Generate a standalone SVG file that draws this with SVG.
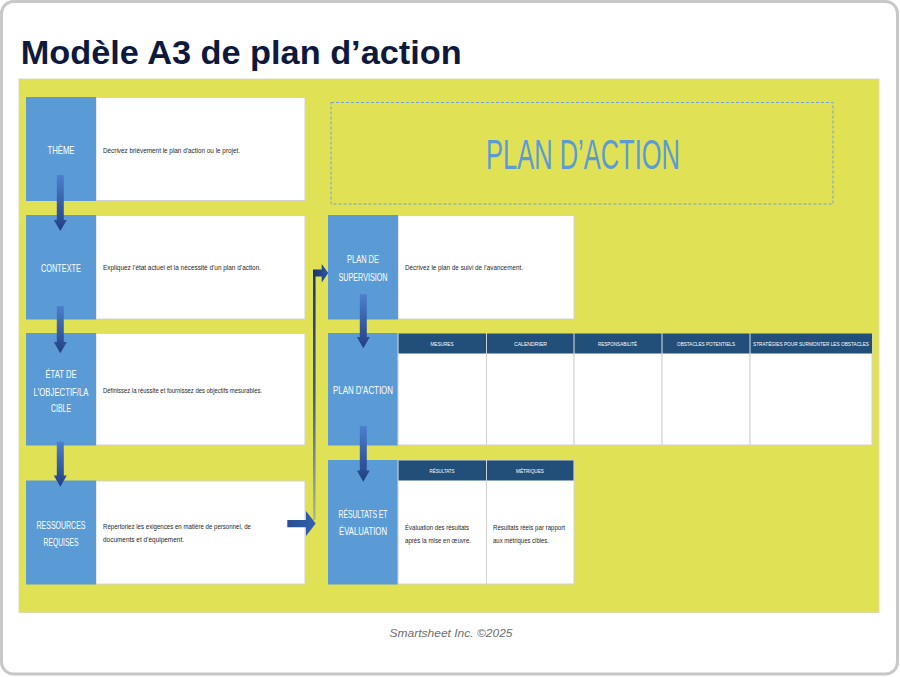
<svg xmlns="http://www.w3.org/2000/svg" width="900" height="677" viewBox="0 0 900 677">
<defs>
<linearGradient id="gDown" x1="0" y1="0" x2="0" y2="1">
<stop offset="0" stop-color="#4d7fcc"/>
<stop offset="1" stop-color="#223f82"/>
</linearGradient>
<linearGradient id="gRight" x1="0" y1="0" x2="1" y2="0">
<stop offset="0" stop-color="#2a4e8e"/>
<stop offset="1" stop-color="#3560b0"/>
</linearGradient>
<linearGradient id="gLine" gradientUnits="userSpaceOnUse" x1="0" y1="270" x2="0" y2="520">
<stop offset="0" stop-color="#1b3266"/>
<stop offset="0.5" stop-color="#3f5a85"/>
<stop offset="1" stop-color="#a7b8a6"/>
</linearGradient>
<linearGradient id="gTop" x1="0" y1="0" x2="1" y2="0">
<stop offset="0" stop-color="#1b3266"/>
<stop offset="1" stop-color="#2c58a8"/>
</linearGradient>
</defs>
<style>
.white{fill:#ffffff;stroke:#d2d2d2;stroke-width:1}
.blue{fill:#5b9bd5}
.hdr{fill:#224e7a}
.lbl{font-family:"Liberation Sans",Arial,sans-serif;font-size:10.5px;fill:#ffffff;text-anchor:middle}
.desc{font-family:"Liberation Sans",Arial,sans-serif;font-size:7px;fill:#262626}
.hd{font-family:"Liberation Sans",Arial,sans-serif;font-size:5.5px;fill:#ffffff;text-anchor:middle}
.cell{fill:#ffffff;stroke:#d2d2d2;stroke-width:1}
.arr{fill:url(#gDown)}
</style>

<rect x="1.5" y="1.5" width="896" height="672.5" rx="12" ry="12" fill="#ffffff" stroke="#c8c8c8" stroke-width="3"/>

<text x="20.7" y="64" font-family="'Liberation Sans',Arial,sans-serif" font-size="33" font-weight="bold" fill="#0d1a3e" textLength="441" lengthAdjust="spacingAndGlyphs">Modèle A3 de plan d’action</text>

<rect x="19" y="79" width="860" height="533.5" fill="#e1e155" stroke="#d6d6b0" stroke-width="0.8"/>

<g id="title-box">
<rect x="331" y="102.5" width="502" height="101.5" fill="none" stroke="#6fa3d8" stroke-width="1" stroke-dasharray="3,2"/>
<text x="583" y="169" font-family="'Liberation Sans',Arial,sans-serif" font-size="42" fill="#5b9bd5" text-anchor="middle" textLength="194" lengthAdjust="spacingAndGlyphs">PLAN D’ACTION</text>
</g>

<g id="theme">
<rect class="white" x="96" y="97.5" width="209" height="103"/>
<rect class="blue" x="26" y="97" width="70" height="104"/>
<text class="lbl" x="61" y="154" textLength="27" lengthAdjust="spacingAndGlyphs">THÈME</text>
<text class="desc" x="103" y="152.5" textLength="137" lengthAdjust="spacingAndGlyphs">Décrivez brièvement le plan d’action ou le projet.</text>
</g>

<g id="contexte">
<rect class="white" x="96" y="215.5" width="209" height="103.5"/>
<rect class="blue" x="26" y="215" width="70" height="104.5"/>
<text class="lbl" x="61" y="271.5" textLength="40" lengthAdjust="spacingAndGlyphs">CONTEXTE</text>
<text class="desc" x="103" y="270" textLength="158" lengthAdjust="spacingAndGlyphs">Expliquez l’état actuel et la nécessité d’un plan d’action.</text>
</g>

<g id="etat">
<rect class="white" x="96" y="333.5" width="209" height="111.5"/>
<rect class="blue" x="26" y="333" width="70" height="112.5"/>
<text class="lbl" x="61" y="378" textLength="31" lengthAdjust="spacingAndGlyphs">ÉTAT DE</text>
<text class="lbl" x="61" y="395.5" textLength="55" lengthAdjust="spacingAndGlyphs">L'OBJECTIF/LA</text>
<text class="lbl" x="61" y="411.5" textLength="20" lengthAdjust="spacingAndGlyphs">CIBLE</text>
<text class="desc" x="103" y="392.5" textLength="159" lengthAdjust="spacingAndGlyphs">Définissez la réussite et fournissez des objectifs mesurables.</text>
</g>

<g id="ressources">
<rect class="white" x="96" y="481" width="209" height="103"/>
<rect class="blue" x="26" y="480.5" width="70" height="104"/>
<text class="lbl" x="61" y="528.5" textLength="49" lengthAdjust="spacingAndGlyphs">RESSOURCES</text>
<text class="lbl" x="61" y="545.5" textLength="35" lengthAdjust="spacingAndGlyphs">REQUISES</text>
<text class="desc" x="103" y="529" textLength="148" lengthAdjust="spacingAndGlyphs">Répertoriez les exigences en matière de personnel, de</text>
<text class="desc" x="103" y="541.5" textLength="81" lengthAdjust="spacingAndGlyphs">documents et d’équipement.</text>
</g>

<g id="supervision">
<rect class="white" x="398" y="215.5" width="176" height="103.5"/>
<rect class="blue" x="328" y="215" width="70" height="104.5"/>
<text class="lbl" x="363" y="263" textLength="32" lengthAdjust="spacingAndGlyphs">PLAN DE</text>
<text class="lbl" x="363" y="280.5" textLength="49" lengthAdjust="spacingAndGlyphs">SUPERVISION</text>
<text class="desc" x="405" y="270" textLength="118" lengthAdjust="spacingAndGlyphs">Décrivez le plan de suivi de l’avancement.</text>
</g>

<g id="plan-action">
<rect class="blue" x="328" y="333" width="70" height="112.5"/>
<text class="lbl" x="363" y="394" textLength="60" lengthAdjust="spacingAndGlyphs">PLAN D'ACTION</text>
<rect class="cell" x="398" y="333.5" width="88.5" height="111.5"/>
<rect class="cell" x="486.5" y="333.5" width="87.5" height="111.5"/>
<rect class="cell" x="574" y="333.5" width="88" height="111.5"/>
<rect class="cell" x="662" y="333.5" width="88" height="111.5"/>
<rect class="cell" x="750" y="333.5" width="122" height="111.5"/>
<rect class="hdr" x="398.5" y="333.5" width="87.5" height="20"/>
<rect class="hdr" x="487" y="333.5" width="86.5" height="20"/>
<rect class="hdr" x="574.5" y="333.5" width="87" height="20"/>
<rect class="hdr" x="662.5" y="333.5" width="87" height="20"/>
<rect class="hdr" x="750.5" y="333.5" width="121.5" height="20"/>
<text class="hd" x="442" y="346" textLength="23" lengthAdjust="spacingAndGlyphs">MESURES</text>
<text class="hd" x="530.5" y="346" textLength="33" lengthAdjust="spacingAndGlyphs">CALENDRIER</text>
<text class="hd" x="617.5" y="346" textLength="39" lengthAdjust="spacingAndGlyphs">RESPONSABILITÉ</text>
<text class="hd" x="706" y="346" textLength="58" lengthAdjust="spacingAndGlyphs">OBSTACLES POTENTIELS</text>
<text class="hd" x="811" y="346" textLength="116" lengthAdjust="spacingAndGlyphs">STRATÉGIES POUR SURMONTER LES OBSTACLES</text>
</g>

<g id="resultats">
<rect class="blue" x="328" y="460" width="70" height="124.5"/>
<text class="lbl" x="363" y="518" textLength="49" lengthAdjust="spacingAndGlyphs">RÉSULTATS ET</text>
<text class="lbl" x="363" y="534.5" textLength="48" lengthAdjust="spacingAndGlyphs">ÉVALUATION</text>
<rect class="cell" x="398" y="460.5" width="88.5" height="123.5"/>
<rect class="cell" x="486.5" y="460.5" width="87.5" height="123.5"/>
<rect class="hdr" x="398.5" y="460.5" width="87.5" height="20"/>
<rect class="hdr" x="487" y="460.5" width="86.5" height="20"/>
<text class="hd" x="442" y="472.5" textLength="25" lengthAdjust="spacingAndGlyphs">RÉSULTATS</text>
<text class="hd" x="530" y="472.5" textLength="28" lengthAdjust="spacingAndGlyphs">MÉTRIQUES</text>
<text class="desc" x="405" y="530" textLength="64" lengthAdjust="spacingAndGlyphs">Évaluation des résultats</text>
<text class="desc" x="405" y="543" textLength="66" lengthAdjust="spacingAndGlyphs">après la mise en œuvre.</text>
<text class="desc" x="493" y="530" textLength="72" lengthAdjust="spacingAndGlyphs">Résultats réels par rapport</text>
<text class="desc" x="493" y="543" textLength="56" lengthAdjust="spacingAndGlyphs">aux métriques cibles.</text>
</g>

<g id="connectors">
<polygon class="arr" points="56.8,175 63.8,175 63.8,220 66.8,220 60.3,231 53.8,220 56.8,220"/>
<polygon class="arr" points="56.8,306 63.8,306 63.8,342 66.8,342 60.3,353.3 53.8,342 56.8,342"/>
<polygon class="arr" points="56.8,441.7 63.8,441.7 63.8,475.5 66.8,475.5 60.3,486.7 53.8,475.5 56.8,475.5"/>
<polygon class="arr" points="359.8,294.3 366.8,294.3 366.8,337 369.8,337 363.3,348.3 356.8,337 359.8,337"/>
<polygon class="arr" points="359.8,426 366.8,426 366.8,470.5 369.8,470.5 363.3,481.7 356.8,470.5 359.8,470.5"/>
<path d="M314.3,520 V272.5 H319" fill="none" stroke="url(#gLine)" stroke-width="2.5"/>
<polygon fill="url(#gTop)" points="313,269.5 321.7,269.5 321.7,264 328.3,273 321.7,282.5 321.7,276.5 313,276.5"/>
<polygon fill="url(#gRight)" points="287.3,520 306,520 306,511 315.7,523.5 306,536 306,527.3 287.3,527.3"/>
</g>

<text x="451" y="637.3" font-family="'Liberation Sans',Arial,sans-serif" font-size="11" font-style="italic" fill="#6e6e6e" text-anchor="middle" textLength="123" lengthAdjust="spacingAndGlyphs">Smartsheet Inc. ©2025</text>
</svg>
